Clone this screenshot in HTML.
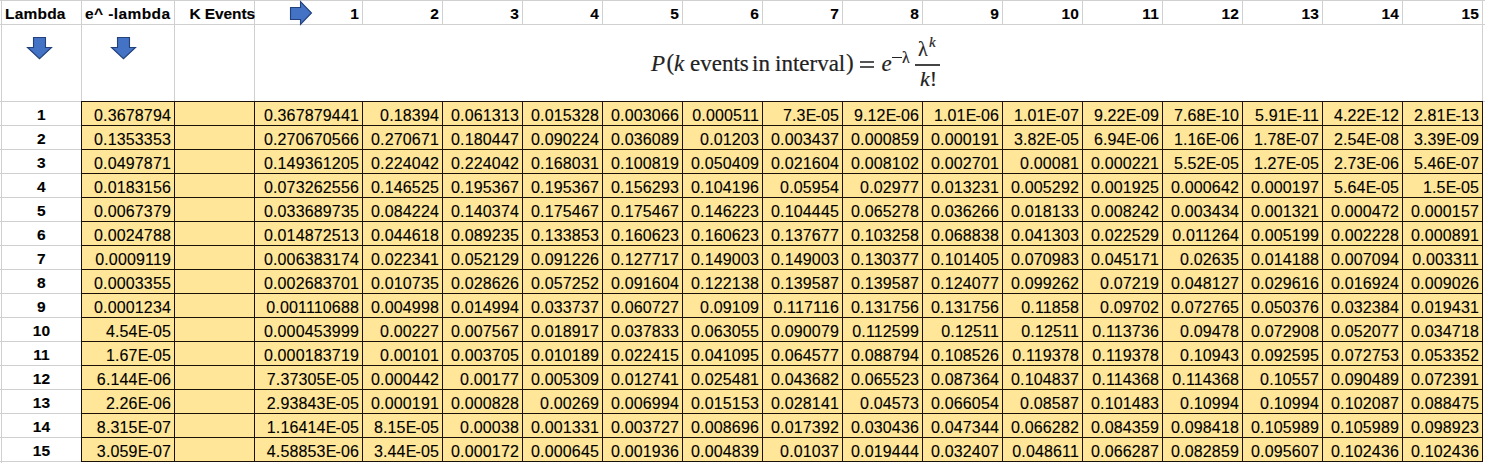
<!DOCTYPE html><html><head><meta charset="utf-8"><style>
html,body{margin:0;padding:0;}
body{width:1485px;height:463px;position:relative;overflow:hidden;background:#fff;font-family:"Liberation Sans",sans-serif;color:#000;}
.l{position:absolute;}
.g{background:#d0d0d0;}
.d{background:#1a1208;}
.c{position:absolute;height:23px;line-height:23px;font-size:16px;letter-spacing:0.15px;white-space:nowrap;text-align:right;-webkit-text-stroke:0.12px #000;}
.b{font-weight:bold;font-size:15.5px;}
.e{letter-spacing:-0.9px;}

</style></head><body>
<div class="l" style="left:81px;top:101px;width:1402px;height:361px;background:#ffe699"></div>
<div class="l g" style="left:0px;top:0px;width:1485px;height:1px"></div>
<div class="l g" style="left:0px;top:24px;width:1485px;height:1px"></div>
<div class="l g" style="left:1px;top:0px;width:1px;height:25px"></div>
<div class="l g" style="left:81px;top:0px;width:1px;height:25px"></div>
<div class="l g" style="left:174px;top:0px;width:1px;height:25px"></div>
<div class="l g" style="left:254px;top:0px;width:1px;height:25px"></div>
<div class="l g" style="left:362px;top:0px;width:1px;height:25px"></div>
<div class="l g" style="left:442px;top:0px;width:1px;height:25px"></div>
<div class="l g" style="left:522px;top:0px;width:1px;height:25px"></div>
<div class="l g" style="left:602px;top:0px;width:1px;height:25px"></div>
<div class="l g" style="left:682px;top:0px;width:1px;height:25px"></div>
<div class="l g" style="left:762px;top:0px;width:1px;height:25px"></div>
<div class="l g" style="left:842px;top:0px;width:1px;height:25px"></div>
<div class="l g" style="left:922px;top:0px;width:1px;height:25px"></div>
<div class="l g" style="left:1002px;top:0px;width:1px;height:25px"></div>
<div class="l g" style="left:1082px;top:0px;width:1px;height:25px"></div>
<div class="l g" style="left:1162px;top:0px;width:1px;height:25px"></div>
<div class="l g" style="left:1242px;top:0px;width:1px;height:25px"></div>
<div class="l g" style="left:1322px;top:0px;width:1px;height:25px"></div>
<div class="l g" style="left:1402px;top:0px;width:1px;height:25px"></div>
<div class="l g" style="left:1482px;top:0px;width:1px;height:25px"></div>
<div class="l g" style="left:1px;top:25px;width:1px;height:76px"></div>
<div class="l g" style="left:81px;top:25px;width:1px;height:76px"></div>
<div class="l g" style="left:174px;top:25px;width:1px;height:76px"></div>
<div class="l g" style="left:254px;top:25px;width:1px;height:76px"></div>
<div class="l g" style="left:1482px;top:25px;width:1px;height:76px"></div>
<div class="l g" style="left:1px;top:101px;width:1px;height:362px"></div>
<div class="l g" style="left:0px;top:101px;width:81px;height:1px"></div>
<div class="l g" style="left:0px;top:125px;width:81px;height:1px"></div>
<div class="l g" style="left:0px;top:149px;width:81px;height:1px"></div>
<div class="l g" style="left:0px;top:173px;width:81px;height:1px"></div>
<div class="l g" style="left:0px;top:197px;width:81px;height:1px"></div>
<div class="l g" style="left:0px;top:221px;width:81px;height:1px"></div>
<div class="l g" style="left:0px;top:245px;width:81px;height:1px"></div>
<div class="l g" style="left:0px;top:269px;width:81px;height:1px"></div>
<div class="l g" style="left:0px;top:293px;width:81px;height:1px"></div>
<div class="l g" style="left:0px;top:317px;width:81px;height:1px"></div>
<div class="l g" style="left:0px;top:341px;width:81px;height:1px"></div>
<div class="l g" style="left:0px;top:365px;width:81px;height:1px"></div>
<div class="l g" style="left:0px;top:389px;width:81px;height:1px"></div>
<div class="l g" style="left:0px;top:413px;width:81px;height:1px"></div>
<div class="l g" style="left:0px;top:437px;width:81px;height:1px"></div>
<div class="l g" style="left:0px;top:461px;width:81px;height:1px"></div>
<div class="l g" style="left:1483px;top:101px;width:2px;height:1px"></div>
<div class="l d" style="left:81px;top:101px;width:1402px;height:1px"></div>
<div class="l d" style="left:81px;top:125px;width:1402px;height:1px"></div>
<div class="l d" style="left:81px;top:149px;width:1402px;height:1px"></div>
<div class="l d" style="left:81px;top:173px;width:1402px;height:1px"></div>
<div class="l d" style="left:81px;top:197px;width:1402px;height:1px"></div>
<div class="l d" style="left:81px;top:221px;width:1402px;height:1px"></div>
<div class="l d" style="left:81px;top:245px;width:1402px;height:1px"></div>
<div class="l d" style="left:81px;top:269px;width:1402px;height:1px"></div>
<div class="l d" style="left:81px;top:293px;width:1402px;height:1px"></div>
<div class="l d" style="left:81px;top:317px;width:1402px;height:1px"></div>
<div class="l d" style="left:81px;top:341px;width:1402px;height:1px"></div>
<div class="l d" style="left:81px;top:365px;width:1402px;height:1px"></div>
<div class="l d" style="left:81px;top:389px;width:1402px;height:1px"></div>
<div class="l d" style="left:81px;top:413px;width:1402px;height:1px"></div>
<div class="l d" style="left:81px;top:437px;width:1402px;height:1px"></div>
<div class="l d" style="left:81px;top:461px;width:1402px;height:1px"></div>
<div class="l d" style="left:81px;top:101px;width:1px;height:361px"></div>
<div class="l d" style="left:174px;top:101px;width:1px;height:361px"></div>
<div class="l d" style="left:254px;top:101px;width:1px;height:361px"></div>
<div class="l d" style="left:362px;top:101px;width:1px;height:361px"></div>
<div class="l d" style="left:442px;top:101px;width:1px;height:361px"></div>
<div class="l d" style="left:522px;top:101px;width:1px;height:361px"></div>
<div class="l d" style="left:602px;top:101px;width:1px;height:361px"></div>
<div class="l d" style="left:682px;top:101px;width:1px;height:361px"></div>
<div class="l d" style="left:762px;top:101px;width:1px;height:361px"></div>
<div class="l d" style="left:842px;top:101px;width:1px;height:361px"></div>
<div class="l d" style="left:922px;top:101px;width:1px;height:361px"></div>
<div class="l d" style="left:1002px;top:101px;width:1px;height:361px"></div>
<div class="l d" style="left:1082px;top:101px;width:1px;height:361px"></div>
<div class="l d" style="left:1162px;top:101px;width:1px;height:361px"></div>
<div class="l d" style="left:1242px;top:101px;width:1px;height:361px"></div>
<div class="l d" style="left:1322px;top:101px;width:1px;height:361px"></div>
<div class="l d" style="left:1402px;top:101px;width:1px;height:361px"></div>
<div class="l d" style="left:1482px;top:101px;width:1px;height:361px"></div>
<div class="c b" style="left:2px;top:2px;width:79px;text-align:left;padding-left:3px;width:76px;letter-spacing:0.2px;">Lambda</div>
<div class="c b" style="left:82px;top:2px;width:92px;text-align:left;padding-left:3px;width:89px;letter-spacing:0.4px;">e^ -lambda</div>
<div class="c b" style="left:175px;top:2px;width:79px;text-align:right;padding-right:-1px;width:80px;letter-spacing:-0.1px;">K Events</div>
<div class="c b" style="left:255px;top:2px;width:107px;text-align:right;padding-right:3px;width:104px;">1</div>
<div class="c b" style="left:363px;top:2px;width:79px;text-align:right;padding-right:3px;width:76px;">2</div>
<div class="c b" style="left:443px;top:2px;width:79px;text-align:right;padding-right:3px;width:76px;">3</div>
<div class="c b" style="left:523px;top:2px;width:79px;text-align:right;padding-right:3px;width:76px;">4</div>
<div class="c b" style="left:603px;top:2px;width:79px;text-align:right;padding-right:3px;width:76px;">5</div>
<div class="c b" style="left:683px;top:2px;width:79px;text-align:right;padding-right:3px;width:76px;">6</div>
<div class="c b" style="left:763px;top:2px;width:79px;text-align:right;padding-right:3px;width:76px;">7</div>
<div class="c b" style="left:843px;top:2px;width:79px;text-align:right;padding-right:3px;width:76px;">8</div>
<div class="c b" style="left:923px;top:2px;width:79px;text-align:right;padding-right:3px;width:76px;">9</div>
<div class="c b" style="left:1003px;top:2px;width:79px;text-align:right;padding-right:3px;width:76px;">10</div>
<div class="c b" style="left:1083px;top:2px;width:79px;text-align:right;padding-right:3px;width:76px;">11</div>
<div class="c b" style="left:1163px;top:2px;width:79px;text-align:right;padding-right:3px;width:76px;">12</div>
<div class="c b" style="left:1243px;top:2px;width:79px;text-align:right;padding-right:3px;width:76px;">13</div>
<div class="c b" style="left:1323px;top:2px;width:79px;text-align:right;padding-right:3px;width:76px;">14</div>
<div class="c b" style="left:1403px;top:2px;width:79px;text-align:right;padding-right:3px;width:76px;">15</div>
<div class="c b" style="left:2px;top:103px;width:79px;text-align:center;">1</div>
<div class="c " style="left:82px;top:104px;width:92px;text-align:right;padding-right:3px;width:89px;">0.3678794</div>
<div class="c " style="left:255px;top:104px;width:107px;text-align:right;padding-right:3px;width:104px;">0.367879441</div>
<div class="c " style="left:363px;top:104px;width:79px;text-align:right;padding-right:3px;width:76px;">0.18394</div>
<div class="c " style="left:443px;top:104px;width:79px;text-align:right;padding-right:3px;width:76px;">0.061313</div>
<div class="c " style="left:523px;top:104px;width:79px;text-align:right;padding-right:3px;width:76px;">0.015328</div>
<div class="c " style="left:603px;top:104px;width:79px;text-align:right;padding-right:3px;width:76px;">0.003066</div>
<div class="c " style="left:683px;top:104px;width:79px;text-align:right;padding-right:3px;width:76px;">0.000511</div>
<div class="c " style="left:763px;top:104px;width:79px;text-align:right;padding-right:3px;width:76px;">7.3<span class="e">E</span>-05</div>
<div class="c " style="left:843px;top:104px;width:79px;text-align:right;padding-right:3px;width:76px;">9.12<span class="e">E</span>-06</div>
<div class="c " style="left:923px;top:104px;width:79px;text-align:right;padding-right:3px;width:76px;">1.01<span class="e">E</span>-06</div>
<div class="c " style="left:1003px;top:104px;width:79px;text-align:right;padding-right:3px;width:76px;">1.01<span class="e">E</span>-07</div>
<div class="c " style="left:1083px;top:104px;width:79px;text-align:right;padding-right:3px;width:76px;">9.22<span class="e">E</span>-09</div>
<div class="c " style="left:1163px;top:104px;width:79px;text-align:right;padding-right:3px;width:76px;">7.68<span class="e">E</span>-10</div>
<div class="c " style="left:1243px;top:104px;width:79px;text-align:right;padding-right:3px;width:76px;">5.91<span class="e">E</span>-11</div>
<div class="c " style="left:1323px;top:104px;width:79px;text-align:right;padding-right:3px;width:76px;">4.22<span class="e">E</span>-12</div>
<div class="c " style="left:1403px;top:104px;width:79px;text-align:right;padding-right:3px;width:76px;">2.81<span class="e">E</span>-13</div>
<div class="c b" style="left:2px;top:127px;width:79px;text-align:center;">2</div>
<div class="c " style="left:82px;top:128px;width:92px;text-align:right;padding-right:3px;width:89px;">0.1353353</div>
<div class="c " style="left:255px;top:128px;width:107px;text-align:right;padding-right:3px;width:104px;">0.270670566</div>
<div class="c " style="left:363px;top:128px;width:79px;text-align:right;padding-right:3px;width:76px;">0.270671</div>
<div class="c " style="left:443px;top:128px;width:79px;text-align:right;padding-right:3px;width:76px;">0.180447</div>
<div class="c " style="left:523px;top:128px;width:79px;text-align:right;padding-right:3px;width:76px;">0.090224</div>
<div class="c " style="left:603px;top:128px;width:79px;text-align:right;padding-right:3px;width:76px;">0.036089</div>
<div class="c " style="left:683px;top:128px;width:79px;text-align:right;padding-right:3px;width:76px;">0.01203</div>
<div class="c " style="left:763px;top:128px;width:79px;text-align:right;padding-right:3px;width:76px;">0.003437</div>
<div class="c " style="left:843px;top:128px;width:79px;text-align:right;padding-right:3px;width:76px;">0.000859</div>
<div class="c " style="left:923px;top:128px;width:79px;text-align:right;padding-right:3px;width:76px;">0.000191</div>
<div class="c " style="left:1003px;top:128px;width:79px;text-align:right;padding-right:3px;width:76px;">3.82<span class="e">E</span>-05</div>
<div class="c " style="left:1083px;top:128px;width:79px;text-align:right;padding-right:3px;width:76px;">6.94<span class="e">E</span>-06</div>
<div class="c " style="left:1163px;top:128px;width:79px;text-align:right;padding-right:3px;width:76px;">1.16<span class="e">E</span>-06</div>
<div class="c " style="left:1243px;top:128px;width:79px;text-align:right;padding-right:3px;width:76px;">1.78<span class="e">E</span>-07</div>
<div class="c " style="left:1323px;top:128px;width:79px;text-align:right;padding-right:3px;width:76px;">2.54<span class="e">E</span>-08</div>
<div class="c " style="left:1403px;top:128px;width:79px;text-align:right;padding-right:3px;width:76px;">3.39<span class="e">E</span>-09</div>
<div class="c b" style="left:2px;top:151px;width:79px;text-align:center;">3</div>
<div class="c " style="left:82px;top:152px;width:92px;text-align:right;padding-right:3px;width:89px;">0.0497871</div>
<div class="c " style="left:255px;top:152px;width:107px;text-align:right;padding-right:3px;width:104px;">0.149361205</div>
<div class="c " style="left:363px;top:152px;width:79px;text-align:right;padding-right:3px;width:76px;">0.224042</div>
<div class="c " style="left:443px;top:152px;width:79px;text-align:right;padding-right:3px;width:76px;">0.224042</div>
<div class="c " style="left:523px;top:152px;width:79px;text-align:right;padding-right:3px;width:76px;">0.168031</div>
<div class="c " style="left:603px;top:152px;width:79px;text-align:right;padding-right:3px;width:76px;">0.100819</div>
<div class="c " style="left:683px;top:152px;width:79px;text-align:right;padding-right:3px;width:76px;">0.050409</div>
<div class="c " style="left:763px;top:152px;width:79px;text-align:right;padding-right:3px;width:76px;">0.021604</div>
<div class="c " style="left:843px;top:152px;width:79px;text-align:right;padding-right:3px;width:76px;">0.008102</div>
<div class="c " style="left:923px;top:152px;width:79px;text-align:right;padding-right:3px;width:76px;">0.002701</div>
<div class="c " style="left:1003px;top:152px;width:79px;text-align:right;padding-right:3px;width:76px;">0.00081</div>
<div class="c " style="left:1083px;top:152px;width:79px;text-align:right;padding-right:3px;width:76px;">0.000221</div>
<div class="c " style="left:1163px;top:152px;width:79px;text-align:right;padding-right:3px;width:76px;">5.52<span class="e">E</span>-05</div>
<div class="c " style="left:1243px;top:152px;width:79px;text-align:right;padding-right:3px;width:76px;">1.27<span class="e">E</span>-05</div>
<div class="c " style="left:1323px;top:152px;width:79px;text-align:right;padding-right:3px;width:76px;">2.73<span class="e">E</span>-06</div>
<div class="c " style="left:1403px;top:152px;width:79px;text-align:right;padding-right:3px;width:76px;">5.46<span class="e">E</span>-07</div>
<div class="c b" style="left:2px;top:175px;width:79px;text-align:center;">4</div>
<div class="c " style="left:82px;top:176px;width:92px;text-align:right;padding-right:3px;width:89px;">0.0183156</div>
<div class="c " style="left:255px;top:176px;width:107px;text-align:right;padding-right:3px;width:104px;">0.073262556</div>
<div class="c " style="left:363px;top:176px;width:79px;text-align:right;padding-right:3px;width:76px;">0.146525</div>
<div class="c " style="left:443px;top:176px;width:79px;text-align:right;padding-right:3px;width:76px;">0.195367</div>
<div class="c " style="left:523px;top:176px;width:79px;text-align:right;padding-right:3px;width:76px;">0.195367</div>
<div class="c " style="left:603px;top:176px;width:79px;text-align:right;padding-right:3px;width:76px;">0.156293</div>
<div class="c " style="left:683px;top:176px;width:79px;text-align:right;padding-right:3px;width:76px;">0.104196</div>
<div class="c " style="left:763px;top:176px;width:79px;text-align:right;padding-right:3px;width:76px;">0.05954</div>
<div class="c " style="left:843px;top:176px;width:79px;text-align:right;padding-right:3px;width:76px;">0.02977</div>
<div class="c " style="left:923px;top:176px;width:79px;text-align:right;padding-right:3px;width:76px;">0.013231</div>
<div class="c " style="left:1003px;top:176px;width:79px;text-align:right;padding-right:3px;width:76px;">0.005292</div>
<div class="c " style="left:1083px;top:176px;width:79px;text-align:right;padding-right:3px;width:76px;">0.001925</div>
<div class="c " style="left:1163px;top:176px;width:79px;text-align:right;padding-right:3px;width:76px;">0.000642</div>
<div class="c " style="left:1243px;top:176px;width:79px;text-align:right;padding-right:3px;width:76px;">0.000197</div>
<div class="c " style="left:1323px;top:176px;width:79px;text-align:right;padding-right:3px;width:76px;">5.64<span class="e">E</span>-05</div>
<div class="c " style="left:1403px;top:176px;width:79px;text-align:right;padding-right:3px;width:76px;">1.5<span class="e">E</span>-05</div>
<div class="c b" style="left:2px;top:199px;width:79px;text-align:center;">5</div>
<div class="c " style="left:82px;top:200px;width:92px;text-align:right;padding-right:3px;width:89px;">0.0067379</div>
<div class="c " style="left:255px;top:200px;width:107px;text-align:right;padding-right:3px;width:104px;">0.033689735</div>
<div class="c " style="left:363px;top:200px;width:79px;text-align:right;padding-right:3px;width:76px;">0.084224</div>
<div class="c " style="left:443px;top:200px;width:79px;text-align:right;padding-right:3px;width:76px;">0.140374</div>
<div class="c " style="left:523px;top:200px;width:79px;text-align:right;padding-right:3px;width:76px;">0.175467</div>
<div class="c " style="left:603px;top:200px;width:79px;text-align:right;padding-right:3px;width:76px;">0.175467</div>
<div class="c " style="left:683px;top:200px;width:79px;text-align:right;padding-right:3px;width:76px;">0.146223</div>
<div class="c " style="left:763px;top:200px;width:79px;text-align:right;padding-right:3px;width:76px;">0.104445</div>
<div class="c " style="left:843px;top:200px;width:79px;text-align:right;padding-right:3px;width:76px;">0.065278</div>
<div class="c " style="left:923px;top:200px;width:79px;text-align:right;padding-right:3px;width:76px;">0.036266</div>
<div class="c " style="left:1003px;top:200px;width:79px;text-align:right;padding-right:3px;width:76px;">0.018133</div>
<div class="c " style="left:1083px;top:200px;width:79px;text-align:right;padding-right:3px;width:76px;">0.008242</div>
<div class="c " style="left:1163px;top:200px;width:79px;text-align:right;padding-right:3px;width:76px;">0.003434</div>
<div class="c " style="left:1243px;top:200px;width:79px;text-align:right;padding-right:3px;width:76px;">0.001321</div>
<div class="c " style="left:1323px;top:200px;width:79px;text-align:right;padding-right:3px;width:76px;">0.000472</div>
<div class="c " style="left:1403px;top:200px;width:79px;text-align:right;padding-right:3px;width:76px;">0.000157</div>
<div class="c b" style="left:2px;top:223px;width:79px;text-align:center;">6</div>
<div class="c " style="left:82px;top:224px;width:92px;text-align:right;padding-right:3px;width:89px;">0.0024788</div>
<div class="c " style="left:255px;top:224px;width:107px;text-align:right;padding-right:3px;width:104px;">0.014872513</div>
<div class="c " style="left:363px;top:224px;width:79px;text-align:right;padding-right:3px;width:76px;">0.044618</div>
<div class="c " style="left:443px;top:224px;width:79px;text-align:right;padding-right:3px;width:76px;">0.089235</div>
<div class="c " style="left:523px;top:224px;width:79px;text-align:right;padding-right:3px;width:76px;">0.133853</div>
<div class="c " style="left:603px;top:224px;width:79px;text-align:right;padding-right:3px;width:76px;">0.160623</div>
<div class="c " style="left:683px;top:224px;width:79px;text-align:right;padding-right:3px;width:76px;">0.160623</div>
<div class="c " style="left:763px;top:224px;width:79px;text-align:right;padding-right:3px;width:76px;">0.137677</div>
<div class="c " style="left:843px;top:224px;width:79px;text-align:right;padding-right:3px;width:76px;">0.103258</div>
<div class="c " style="left:923px;top:224px;width:79px;text-align:right;padding-right:3px;width:76px;">0.068838</div>
<div class="c " style="left:1003px;top:224px;width:79px;text-align:right;padding-right:3px;width:76px;">0.041303</div>
<div class="c " style="left:1083px;top:224px;width:79px;text-align:right;padding-right:3px;width:76px;">0.022529</div>
<div class="c " style="left:1163px;top:224px;width:79px;text-align:right;padding-right:3px;width:76px;">0.011264</div>
<div class="c " style="left:1243px;top:224px;width:79px;text-align:right;padding-right:3px;width:76px;">0.005199</div>
<div class="c " style="left:1323px;top:224px;width:79px;text-align:right;padding-right:3px;width:76px;">0.002228</div>
<div class="c " style="left:1403px;top:224px;width:79px;text-align:right;padding-right:3px;width:76px;">0.000891</div>
<div class="c b" style="left:2px;top:247px;width:79px;text-align:center;">7</div>
<div class="c " style="left:82px;top:248px;width:92px;text-align:right;padding-right:3px;width:89px;">0.0009119</div>
<div class="c " style="left:255px;top:248px;width:107px;text-align:right;padding-right:3px;width:104px;">0.006383174</div>
<div class="c " style="left:363px;top:248px;width:79px;text-align:right;padding-right:3px;width:76px;">0.022341</div>
<div class="c " style="left:443px;top:248px;width:79px;text-align:right;padding-right:3px;width:76px;">0.052129</div>
<div class="c " style="left:523px;top:248px;width:79px;text-align:right;padding-right:3px;width:76px;">0.091226</div>
<div class="c " style="left:603px;top:248px;width:79px;text-align:right;padding-right:3px;width:76px;">0.127717</div>
<div class="c " style="left:683px;top:248px;width:79px;text-align:right;padding-right:3px;width:76px;">0.149003</div>
<div class="c " style="left:763px;top:248px;width:79px;text-align:right;padding-right:3px;width:76px;">0.149003</div>
<div class="c " style="left:843px;top:248px;width:79px;text-align:right;padding-right:3px;width:76px;">0.130377</div>
<div class="c " style="left:923px;top:248px;width:79px;text-align:right;padding-right:3px;width:76px;">0.101405</div>
<div class="c " style="left:1003px;top:248px;width:79px;text-align:right;padding-right:3px;width:76px;">0.070983</div>
<div class="c " style="left:1083px;top:248px;width:79px;text-align:right;padding-right:3px;width:76px;">0.045171</div>
<div class="c " style="left:1163px;top:248px;width:79px;text-align:right;padding-right:3px;width:76px;">0.02635</div>
<div class="c " style="left:1243px;top:248px;width:79px;text-align:right;padding-right:3px;width:76px;">0.014188</div>
<div class="c " style="left:1323px;top:248px;width:79px;text-align:right;padding-right:3px;width:76px;">0.007094</div>
<div class="c " style="left:1403px;top:248px;width:79px;text-align:right;padding-right:3px;width:76px;">0.003311</div>
<div class="c b" style="left:2px;top:271px;width:79px;text-align:center;">8</div>
<div class="c " style="left:82px;top:272px;width:92px;text-align:right;padding-right:3px;width:89px;">0.0003355</div>
<div class="c " style="left:255px;top:272px;width:107px;text-align:right;padding-right:3px;width:104px;">0.002683701</div>
<div class="c " style="left:363px;top:272px;width:79px;text-align:right;padding-right:3px;width:76px;">0.010735</div>
<div class="c " style="left:443px;top:272px;width:79px;text-align:right;padding-right:3px;width:76px;">0.028626</div>
<div class="c " style="left:523px;top:272px;width:79px;text-align:right;padding-right:3px;width:76px;">0.057252</div>
<div class="c " style="left:603px;top:272px;width:79px;text-align:right;padding-right:3px;width:76px;">0.091604</div>
<div class="c " style="left:683px;top:272px;width:79px;text-align:right;padding-right:3px;width:76px;">0.122138</div>
<div class="c " style="left:763px;top:272px;width:79px;text-align:right;padding-right:3px;width:76px;">0.139587</div>
<div class="c " style="left:843px;top:272px;width:79px;text-align:right;padding-right:3px;width:76px;">0.139587</div>
<div class="c " style="left:923px;top:272px;width:79px;text-align:right;padding-right:3px;width:76px;">0.124077</div>
<div class="c " style="left:1003px;top:272px;width:79px;text-align:right;padding-right:3px;width:76px;">0.099262</div>
<div class="c " style="left:1083px;top:272px;width:79px;text-align:right;padding-right:3px;width:76px;">0.07219</div>
<div class="c " style="left:1163px;top:272px;width:79px;text-align:right;padding-right:3px;width:76px;">0.048127</div>
<div class="c " style="left:1243px;top:272px;width:79px;text-align:right;padding-right:3px;width:76px;">0.029616</div>
<div class="c " style="left:1323px;top:272px;width:79px;text-align:right;padding-right:3px;width:76px;">0.016924</div>
<div class="c " style="left:1403px;top:272px;width:79px;text-align:right;padding-right:3px;width:76px;">0.009026</div>
<div class="c b" style="left:2px;top:295px;width:79px;text-align:center;">9</div>
<div class="c " style="left:82px;top:296px;width:92px;text-align:right;padding-right:3px;width:89px;">0.0001234</div>
<div class="c " style="left:255px;top:296px;width:107px;text-align:right;padding-right:3px;width:104px;">0.001110688</div>
<div class="c " style="left:363px;top:296px;width:79px;text-align:right;padding-right:3px;width:76px;">0.004998</div>
<div class="c " style="left:443px;top:296px;width:79px;text-align:right;padding-right:3px;width:76px;">0.014994</div>
<div class="c " style="left:523px;top:296px;width:79px;text-align:right;padding-right:3px;width:76px;">0.033737</div>
<div class="c " style="left:603px;top:296px;width:79px;text-align:right;padding-right:3px;width:76px;">0.060727</div>
<div class="c " style="left:683px;top:296px;width:79px;text-align:right;padding-right:3px;width:76px;">0.09109</div>
<div class="c " style="left:763px;top:296px;width:79px;text-align:right;padding-right:3px;width:76px;">0.117116</div>
<div class="c " style="left:843px;top:296px;width:79px;text-align:right;padding-right:3px;width:76px;">0.131756</div>
<div class="c " style="left:923px;top:296px;width:79px;text-align:right;padding-right:3px;width:76px;">0.131756</div>
<div class="c " style="left:1003px;top:296px;width:79px;text-align:right;padding-right:3px;width:76px;">0.11858</div>
<div class="c " style="left:1083px;top:296px;width:79px;text-align:right;padding-right:3px;width:76px;">0.09702</div>
<div class="c " style="left:1163px;top:296px;width:79px;text-align:right;padding-right:3px;width:76px;">0.072765</div>
<div class="c " style="left:1243px;top:296px;width:79px;text-align:right;padding-right:3px;width:76px;">0.050376</div>
<div class="c " style="left:1323px;top:296px;width:79px;text-align:right;padding-right:3px;width:76px;">0.032384</div>
<div class="c " style="left:1403px;top:296px;width:79px;text-align:right;padding-right:3px;width:76px;">0.019431</div>
<div class="c b" style="left:2px;top:319px;width:79px;text-align:center;">10</div>
<div class="c " style="left:82px;top:320px;width:92px;text-align:right;padding-right:3px;width:89px;">4.54<span class="e">E</span>-05</div>
<div class="c " style="left:255px;top:320px;width:107px;text-align:right;padding-right:3px;width:104px;">0.000453999</div>
<div class="c " style="left:363px;top:320px;width:79px;text-align:right;padding-right:3px;width:76px;">0.00227</div>
<div class="c " style="left:443px;top:320px;width:79px;text-align:right;padding-right:3px;width:76px;">0.007567</div>
<div class="c " style="left:523px;top:320px;width:79px;text-align:right;padding-right:3px;width:76px;">0.018917</div>
<div class="c " style="left:603px;top:320px;width:79px;text-align:right;padding-right:3px;width:76px;">0.037833</div>
<div class="c " style="left:683px;top:320px;width:79px;text-align:right;padding-right:3px;width:76px;">0.063055</div>
<div class="c " style="left:763px;top:320px;width:79px;text-align:right;padding-right:3px;width:76px;">0.090079</div>
<div class="c " style="left:843px;top:320px;width:79px;text-align:right;padding-right:3px;width:76px;">0.112599</div>
<div class="c " style="left:923px;top:320px;width:79px;text-align:right;padding-right:3px;width:76px;">0.12511</div>
<div class="c " style="left:1003px;top:320px;width:79px;text-align:right;padding-right:3px;width:76px;">0.12511</div>
<div class="c " style="left:1083px;top:320px;width:79px;text-align:right;padding-right:3px;width:76px;">0.113736</div>
<div class="c " style="left:1163px;top:320px;width:79px;text-align:right;padding-right:3px;width:76px;">0.09478</div>
<div class="c " style="left:1243px;top:320px;width:79px;text-align:right;padding-right:3px;width:76px;">0.072908</div>
<div class="c " style="left:1323px;top:320px;width:79px;text-align:right;padding-right:3px;width:76px;">0.052077</div>
<div class="c " style="left:1403px;top:320px;width:79px;text-align:right;padding-right:3px;width:76px;">0.034718</div>
<div class="c b" style="left:2px;top:343px;width:79px;text-align:center;">11</div>
<div class="c " style="left:82px;top:344px;width:92px;text-align:right;padding-right:3px;width:89px;">1.67<span class="e">E</span>-05</div>
<div class="c " style="left:255px;top:344px;width:107px;text-align:right;padding-right:3px;width:104px;">0.000183719</div>
<div class="c " style="left:363px;top:344px;width:79px;text-align:right;padding-right:3px;width:76px;">0.00101</div>
<div class="c " style="left:443px;top:344px;width:79px;text-align:right;padding-right:3px;width:76px;">0.003705</div>
<div class="c " style="left:523px;top:344px;width:79px;text-align:right;padding-right:3px;width:76px;">0.010189</div>
<div class="c " style="left:603px;top:344px;width:79px;text-align:right;padding-right:3px;width:76px;">0.022415</div>
<div class="c " style="left:683px;top:344px;width:79px;text-align:right;padding-right:3px;width:76px;">0.041095</div>
<div class="c " style="left:763px;top:344px;width:79px;text-align:right;padding-right:3px;width:76px;">0.064577</div>
<div class="c " style="left:843px;top:344px;width:79px;text-align:right;padding-right:3px;width:76px;">0.088794</div>
<div class="c " style="left:923px;top:344px;width:79px;text-align:right;padding-right:3px;width:76px;">0.108526</div>
<div class="c " style="left:1003px;top:344px;width:79px;text-align:right;padding-right:3px;width:76px;">0.119378</div>
<div class="c " style="left:1083px;top:344px;width:79px;text-align:right;padding-right:3px;width:76px;">0.119378</div>
<div class="c " style="left:1163px;top:344px;width:79px;text-align:right;padding-right:3px;width:76px;">0.10943</div>
<div class="c " style="left:1243px;top:344px;width:79px;text-align:right;padding-right:3px;width:76px;">0.092595</div>
<div class="c " style="left:1323px;top:344px;width:79px;text-align:right;padding-right:3px;width:76px;">0.072753</div>
<div class="c " style="left:1403px;top:344px;width:79px;text-align:right;padding-right:3px;width:76px;">0.053352</div>
<div class="c b" style="left:2px;top:367px;width:79px;text-align:center;">12</div>
<div class="c " style="left:82px;top:368px;width:92px;text-align:right;padding-right:3px;width:89px;">6.144<span class="e">E</span>-06</div>
<div class="c " style="left:255px;top:368px;width:107px;text-align:right;padding-right:3px;width:104px;">7.37305<span class="e">E</span>-05</div>
<div class="c " style="left:363px;top:368px;width:79px;text-align:right;padding-right:3px;width:76px;">0.000442</div>
<div class="c " style="left:443px;top:368px;width:79px;text-align:right;padding-right:3px;width:76px;">0.00177</div>
<div class="c " style="left:523px;top:368px;width:79px;text-align:right;padding-right:3px;width:76px;">0.005309</div>
<div class="c " style="left:603px;top:368px;width:79px;text-align:right;padding-right:3px;width:76px;">0.012741</div>
<div class="c " style="left:683px;top:368px;width:79px;text-align:right;padding-right:3px;width:76px;">0.025481</div>
<div class="c " style="left:763px;top:368px;width:79px;text-align:right;padding-right:3px;width:76px;">0.043682</div>
<div class="c " style="left:843px;top:368px;width:79px;text-align:right;padding-right:3px;width:76px;">0.065523</div>
<div class="c " style="left:923px;top:368px;width:79px;text-align:right;padding-right:3px;width:76px;">0.087364</div>
<div class="c " style="left:1003px;top:368px;width:79px;text-align:right;padding-right:3px;width:76px;">0.104837</div>
<div class="c " style="left:1083px;top:368px;width:79px;text-align:right;padding-right:3px;width:76px;">0.114368</div>
<div class="c " style="left:1163px;top:368px;width:79px;text-align:right;padding-right:3px;width:76px;">0.114368</div>
<div class="c " style="left:1243px;top:368px;width:79px;text-align:right;padding-right:3px;width:76px;">0.10557</div>
<div class="c " style="left:1323px;top:368px;width:79px;text-align:right;padding-right:3px;width:76px;">0.090489</div>
<div class="c " style="left:1403px;top:368px;width:79px;text-align:right;padding-right:3px;width:76px;">0.072391</div>
<div class="c b" style="left:2px;top:391px;width:79px;text-align:center;">13</div>
<div class="c " style="left:82px;top:392px;width:92px;text-align:right;padding-right:3px;width:89px;">2.26<span class="e">E</span>-06</div>
<div class="c " style="left:255px;top:392px;width:107px;text-align:right;padding-right:3px;width:104px;">2.93843<span class="e">E</span>-05</div>
<div class="c " style="left:363px;top:392px;width:79px;text-align:right;padding-right:3px;width:76px;">0.000191</div>
<div class="c " style="left:443px;top:392px;width:79px;text-align:right;padding-right:3px;width:76px;">0.000828</div>
<div class="c " style="left:523px;top:392px;width:79px;text-align:right;padding-right:3px;width:76px;">0.00269</div>
<div class="c " style="left:603px;top:392px;width:79px;text-align:right;padding-right:3px;width:76px;">0.006994</div>
<div class="c " style="left:683px;top:392px;width:79px;text-align:right;padding-right:3px;width:76px;">0.015153</div>
<div class="c " style="left:763px;top:392px;width:79px;text-align:right;padding-right:3px;width:76px;">0.028141</div>
<div class="c " style="left:843px;top:392px;width:79px;text-align:right;padding-right:3px;width:76px;">0.04573</div>
<div class="c " style="left:923px;top:392px;width:79px;text-align:right;padding-right:3px;width:76px;">0.066054</div>
<div class="c " style="left:1003px;top:392px;width:79px;text-align:right;padding-right:3px;width:76px;">0.08587</div>
<div class="c " style="left:1083px;top:392px;width:79px;text-align:right;padding-right:3px;width:76px;">0.101483</div>
<div class="c " style="left:1163px;top:392px;width:79px;text-align:right;padding-right:3px;width:76px;">0.10994</div>
<div class="c " style="left:1243px;top:392px;width:79px;text-align:right;padding-right:3px;width:76px;">0.10994</div>
<div class="c " style="left:1323px;top:392px;width:79px;text-align:right;padding-right:3px;width:76px;">0.102087</div>
<div class="c " style="left:1403px;top:392px;width:79px;text-align:right;padding-right:3px;width:76px;">0.088475</div>
<div class="c b" style="left:2px;top:415px;width:79px;text-align:center;">14</div>
<div class="c " style="left:82px;top:416px;width:92px;text-align:right;padding-right:3px;width:89px;">8.315<span class="e">E</span>-07</div>
<div class="c " style="left:255px;top:416px;width:107px;text-align:right;padding-right:3px;width:104px;">1.16414<span class="e">E</span>-05</div>
<div class="c " style="left:363px;top:416px;width:79px;text-align:right;padding-right:3px;width:76px;">8.15<span class="e">E</span>-05</div>
<div class="c " style="left:443px;top:416px;width:79px;text-align:right;padding-right:3px;width:76px;">0.00038</div>
<div class="c " style="left:523px;top:416px;width:79px;text-align:right;padding-right:3px;width:76px;">0.001331</div>
<div class="c " style="left:603px;top:416px;width:79px;text-align:right;padding-right:3px;width:76px;">0.003727</div>
<div class="c " style="left:683px;top:416px;width:79px;text-align:right;padding-right:3px;width:76px;">0.008696</div>
<div class="c " style="left:763px;top:416px;width:79px;text-align:right;padding-right:3px;width:76px;">0.017392</div>
<div class="c " style="left:843px;top:416px;width:79px;text-align:right;padding-right:3px;width:76px;">0.030436</div>
<div class="c " style="left:923px;top:416px;width:79px;text-align:right;padding-right:3px;width:76px;">0.047344</div>
<div class="c " style="left:1003px;top:416px;width:79px;text-align:right;padding-right:3px;width:76px;">0.066282</div>
<div class="c " style="left:1083px;top:416px;width:79px;text-align:right;padding-right:3px;width:76px;">0.084359</div>
<div class="c " style="left:1163px;top:416px;width:79px;text-align:right;padding-right:3px;width:76px;">0.098418</div>
<div class="c " style="left:1243px;top:416px;width:79px;text-align:right;padding-right:3px;width:76px;">0.105989</div>
<div class="c " style="left:1323px;top:416px;width:79px;text-align:right;padding-right:3px;width:76px;">0.105989</div>
<div class="c " style="left:1403px;top:416px;width:79px;text-align:right;padding-right:3px;width:76px;">0.098923</div>
<div class="c b" style="left:2px;top:439px;width:79px;text-align:center;">15</div>
<div class="c " style="left:82px;top:440px;width:92px;text-align:right;padding-right:3px;width:89px;">3.059<span class="e">E</span>-07</div>
<div class="c " style="left:255px;top:440px;width:107px;text-align:right;padding-right:3px;width:104px;">4.58853<span class="e">E</span>-06</div>
<div class="c " style="left:363px;top:440px;width:79px;text-align:right;padding-right:3px;width:76px;">3.44<span class="e">E</span>-05</div>
<div class="c " style="left:443px;top:440px;width:79px;text-align:right;padding-right:3px;width:76px;">0.000172</div>
<div class="c " style="left:523px;top:440px;width:79px;text-align:right;padding-right:3px;width:76px;">0.000645</div>
<div class="c " style="left:603px;top:440px;width:79px;text-align:right;padding-right:3px;width:76px;">0.001936</div>
<div class="c " style="left:683px;top:440px;width:79px;text-align:right;padding-right:3px;width:76px;">0.004839</div>
<div class="c " style="left:763px;top:440px;width:79px;text-align:right;padding-right:3px;width:76px;">0.01037</div>
<div class="c " style="left:843px;top:440px;width:79px;text-align:right;padding-right:3px;width:76px;">0.019444</div>
<div class="c " style="left:923px;top:440px;width:79px;text-align:right;padding-right:3px;width:76px;">0.032407</div>
<div class="c " style="left:1003px;top:440px;width:79px;text-align:right;padding-right:3px;width:76px;">0.048611</div>
<div class="c " style="left:1083px;top:440px;width:79px;text-align:right;padding-right:3px;width:76px;">0.066287</div>
<div class="c " style="left:1163px;top:440px;width:79px;text-align:right;padding-right:3px;width:76px;">0.082859</div>
<div class="c " style="left:1243px;top:440px;width:79px;text-align:right;padding-right:3px;width:76px;">0.095607</div>
<div class="c " style="left:1323px;top:440px;width:79px;text-align:right;padding-right:3px;width:76px;">0.102436</div>
<div class="c " style="left:1403px;top:440px;width:79px;text-align:right;padding-right:3px;width:76px;">0.102436</div>
<svg class="l" style="left:26px;top:36px" width="30" height="26" viewBox="0 0 30 26"><path d="M7.5 1.5 H19.5 V11.5 H25.5 L13.5 22.7 L1.5 11.5 H7.5 Z" fill="#4472c4" stroke="#22407a" stroke-width="1.1"/></svg>
<svg class="l" style="left:110px;top:36px" width="30" height="26" viewBox="0 0 30 26"><path d="M7.5 1.5 H19.5 V11.5 H25.5 L13.5 22.7 L1.5 11.5 H7.5 Z" fill="#4472c4" stroke="#22407a" stroke-width="1.1"/></svg>
<svg class="l" style="left:289px;top:0px" width="26" height="26" viewBox="0 0 26 26"><path d="M1.5 7.5 V19.5 H11.5 V24.5 L22.5 13 L11.5 1.5 V7.5 Z" fill="#4472c4" stroke="#22407a" stroke-width="1.1"/></svg>
<span class="l" style="left:651px;top:49px;font-size:23px;font-family:'Liberation Serif',serif;color:#222;line-height:30px;white-space:nowrap;-webkit-text-stroke:0.2px #222;font-style:italic;">P</span>
<span class="l" style="left:666.5px;top:48px;font-size:23px;font-family:'Liberation Serif',serif;color:#222;line-height:30px;white-space:nowrap;-webkit-text-stroke:0.2px #222;">(</span>
<span class="l" style="left:674px;top:49px;font-size:23px;font-family:'Liberation Serif',serif;color:#222;line-height:30px;white-space:nowrap;-webkit-text-stroke:0.2px #222;font-style:italic;">k</span>
<span class="l" style="left:690px;top:49px;font-size:23px;font-family:'Liberation Serif',serif;color:#222;line-height:30px;white-space:nowrap;-webkit-text-stroke:0.2px #222;">events</span>
<span class="l" style="left:752px;top:49px;font-size:23px;font-family:'Liberation Serif',serif;color:#222;line-height:30px;white-space:nowrap;-webkit-text-stroke:0.2px #222;">in</span>
<span class="l" style="left:775px;top:49px;font-size:23px;font-family:'Liberation Serif',serif;color:#222;line-height:30px;white-space:nowrap;-webkit-text-stroke:0.2px #222;">interval</span>
<span class="l" style="left:846px;top:48px;font-size:23px;font-family:'Liberation Serif',serif;color:#222;line-height:30px;white-space:nowrap;-webkit-text-stroke:0.2px #222;">)</span>
<div class="l" style="left:860px;top:61px;width:14px;height:2px;background:#555"></div><div class="l" style="left:860px;top:66px;width:14px;height:2px;background:#555"></div>
<span class="l" style="left:881.5px;top:49px;font-size:23px;font-family:'Liberation Serif',serif;color:#222;line-height:30px;white-space:nowrap;-webkit-text-stroke:0.2px #222;font-style:italic;">e</span>
<div class="l" style="left:892px;top:57px;width:10px;height:1px;background:#222"></div>
<span class="l" style="left:902px;top:43px;font-size:16px;font-family:'Liberation Serif',serif;color:#222;line-height:30px;white-space:nowrap;-webkit-text-stroke:0.2px #222;">&lambda;</span>
<div class="l" style="left:915px;top:64px;width:25px;height:2px;background:#444"></div>
<span class="l" style="left:918px;top:34px;font-size:20px;font-family:'Liberation Serif',serif;color:#222;line-height:30px;white-space:nowrap;-webkit-text-stroke:0.2px #222;">&lambda;</span>
<span class="l" style="left:929px;top:27px;font-size:15px;font-family:'Liberation Serif',serif;color:#222;line-height:30px;white-space:nowrap;-webkit-text-stroke:0.2px #222;font-style:italic;">k</span>
<span class="l" style="left:920px;top:64px;font-size:22px;font-family:'Liberation Serif',serif;color:#222;line-height:30px;white-space:nowrap;-webkit-text-stroke:0.2px #222;font-style:italic">k<span style="font-style:normal">!</span></span>
</body></html>
